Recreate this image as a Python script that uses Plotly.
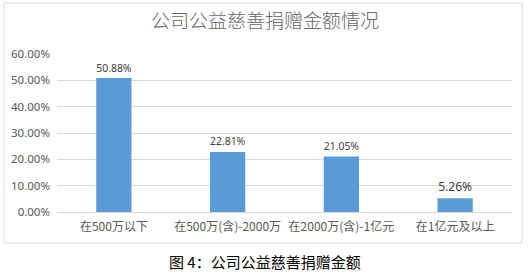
import plotly.graph_objects as go

categories = ["在500万以下", "在500万(含)-2000万", "在2000万(含)-1亿元", "在1亿元及以上"]
values = [0.5088, 0.2281, 0.2105, 0.0526]
labels = ["50.88%", "22.81%", "21.05%", "5.26%"]
y_ticks = [0, 0.1, 0.2, 0.3, 0.4, 0.5, 0.6]

W, H = 531, 274
L, R, T, B = 57, 19, 54, 62
pw, ph = W - L - R, H - T - B

def px_x(x):
    return (x - L) / pw

def px_y(y):
    return (H - B - y) / ph

fig = go.Figure(go.Bar(
    x=categories, y=values, text=labels, textposition="outside",
    textfont=dict(size=12, color="#404040", family="Noto Sans, Noto Sans CJK SC"),
    marker=dict(color="#5B9BD5", line=dict(width=0)),
    cliponaxis=False,
))

fig.update_layout(
    width=W, height=H,
    margin=dict(l=L, r=R, t=T, b=B),
    paper_bgcolor="white", plot_bgcolor="white",
    bargap=0.69,
    showlegend=False,
    font=dict(family="Noto Sans CJK SC", color="#595959"),
    title=dict(text="公司公益慈善捐赠金额情况", x=265 / W, xanchor="center",
               y=1 - 21 / H, yanchor="middle", yref="container",
               font=dict(size=19, color="#666666", family="Noto Sans CJK SC", weight=300)),
    xaxis=dict(showline=False, ticks="", tickfont=dict(size=12, color="#595959"),
               ticklabelstandoff=6),
    yaxis=dict(range=[0, 0.6], tickvals=y_ticks, tickformat=".2%",
               showgrid=True, gridcolor="#D9D9D9", gridwidth=1, zeroline=True,
               zerolinecolor="#D9D9D9", zerolinewidth=1,
               tickfont=dict(size=11.5, color="#595959", family="Noto Sans"),
               ticklabelstandoff=6),
    shapes=[dict(type="rect", xref="paper", yref="paper",
                 x0=px_x(4), x1=px_x(522), y0=px_y(243), y1=px_y(3),
                 line=dict(color="#D9D9D9", width=1), fillcolor="rgba(0,0,0,0)",
                 layer="below")],
    annotations=[dict(text="图 4：公司公益慈善捐赠金额", xref="paper", yref="paper",
                      x=px_x(265), y=px_y(261), showarrow=False,
                      xanchor="center", yanchor="middle",
                      font=dict(size=15, color="#000000", family="Noto Sans CJK SC"))],
)

fig.write_html("out.html")
